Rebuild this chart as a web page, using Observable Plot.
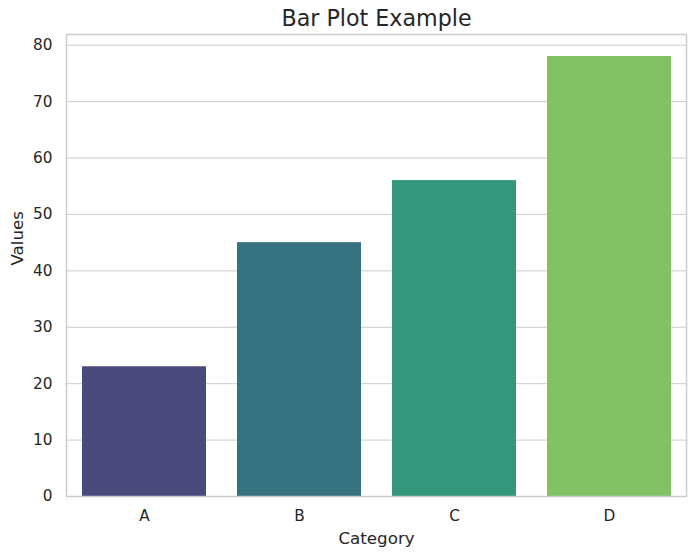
<!DOCTYPE html>
<html>
<head>
<meta charset="utf-8">
<script src="https://cdn.jsdelivr.net/npm/d3@7"></script>
<script src="https://cdn.jsdelivr.net/npm/@observablehq/plot@0.6"></script>
<style>
  html, body { margin: 0; padding: 0; background: #fff; }
  svg { display: block; }
  g[aria-label$="tick label"], g[aria-label$="tick label"] text { font-size: 15.3px !important; }
</style>
</head>
<body>
<div id="chart"></div>
<script>
const categories = ["A", "B", "C", "D"];
const values = [23, 45, 56, 78];
const colors = ["#4b4a7c", "#367280", "#34977c", "#82c264"];
const yTicks = [0, 10, 20, 30, 40, 50, 60, 70, 80];
const title = "Bar Plot Example";

const data = categories.map((c, i) => ({category: c, value: values[i]}));
const textColor = "#262626";
const gridColor = "#cccccc";

const chart = Plot.plot({
  width: 696,
  height: 558,
  marginLeft: 66,
  marginRight: 10,
  marginTop: 34,
  marginBottom: 62,
  style: {fontFamily: "DejaVu Sans", fontSize: "15px", color: textColor, background: "#fff"},
  x: {domain: categories, paddingInner: 0.2, paddingOuter: 0.1, label: null},
  y: {domain: [0, 81.9], label: null},
  color: {domain: categories, range: colors},
  marks: [
    Plot.gridY(yTicks, {stroke: gridColor, strokeOpacity: 1, strokeWidth: 1}),
    Plot.barY(data, {x: "category", y: "value", fill: "category"}),
    Plot.frame({stroke: gridColor, strokeWidth: 1.5}),
    Plot.axisY(yTicks, {tickSize: 0, tickPadding: 14, fill: textColor, label: null}),
    Plot.axisX(categories, {tickSize: 0, tickPadding: 14, fill: textColor, label: null}),
    Plot.text([title], {frameAnchor: "top", dy: -24, fontSize: 22.2, fill: textColor}),
    Plot.text(["Category"], {frameAnchor: "bottom", dy: 47, fontSize: 16.7, fill: textColor}),
    Plot.text(["Values"], {frameAnchor: "left", dx: -49, rotate: -90, fontSize: 16.7, fill: textColor})
  ]
});
document.getElementById("chart").appendChild(chart);
</script>
</body>
</html>
